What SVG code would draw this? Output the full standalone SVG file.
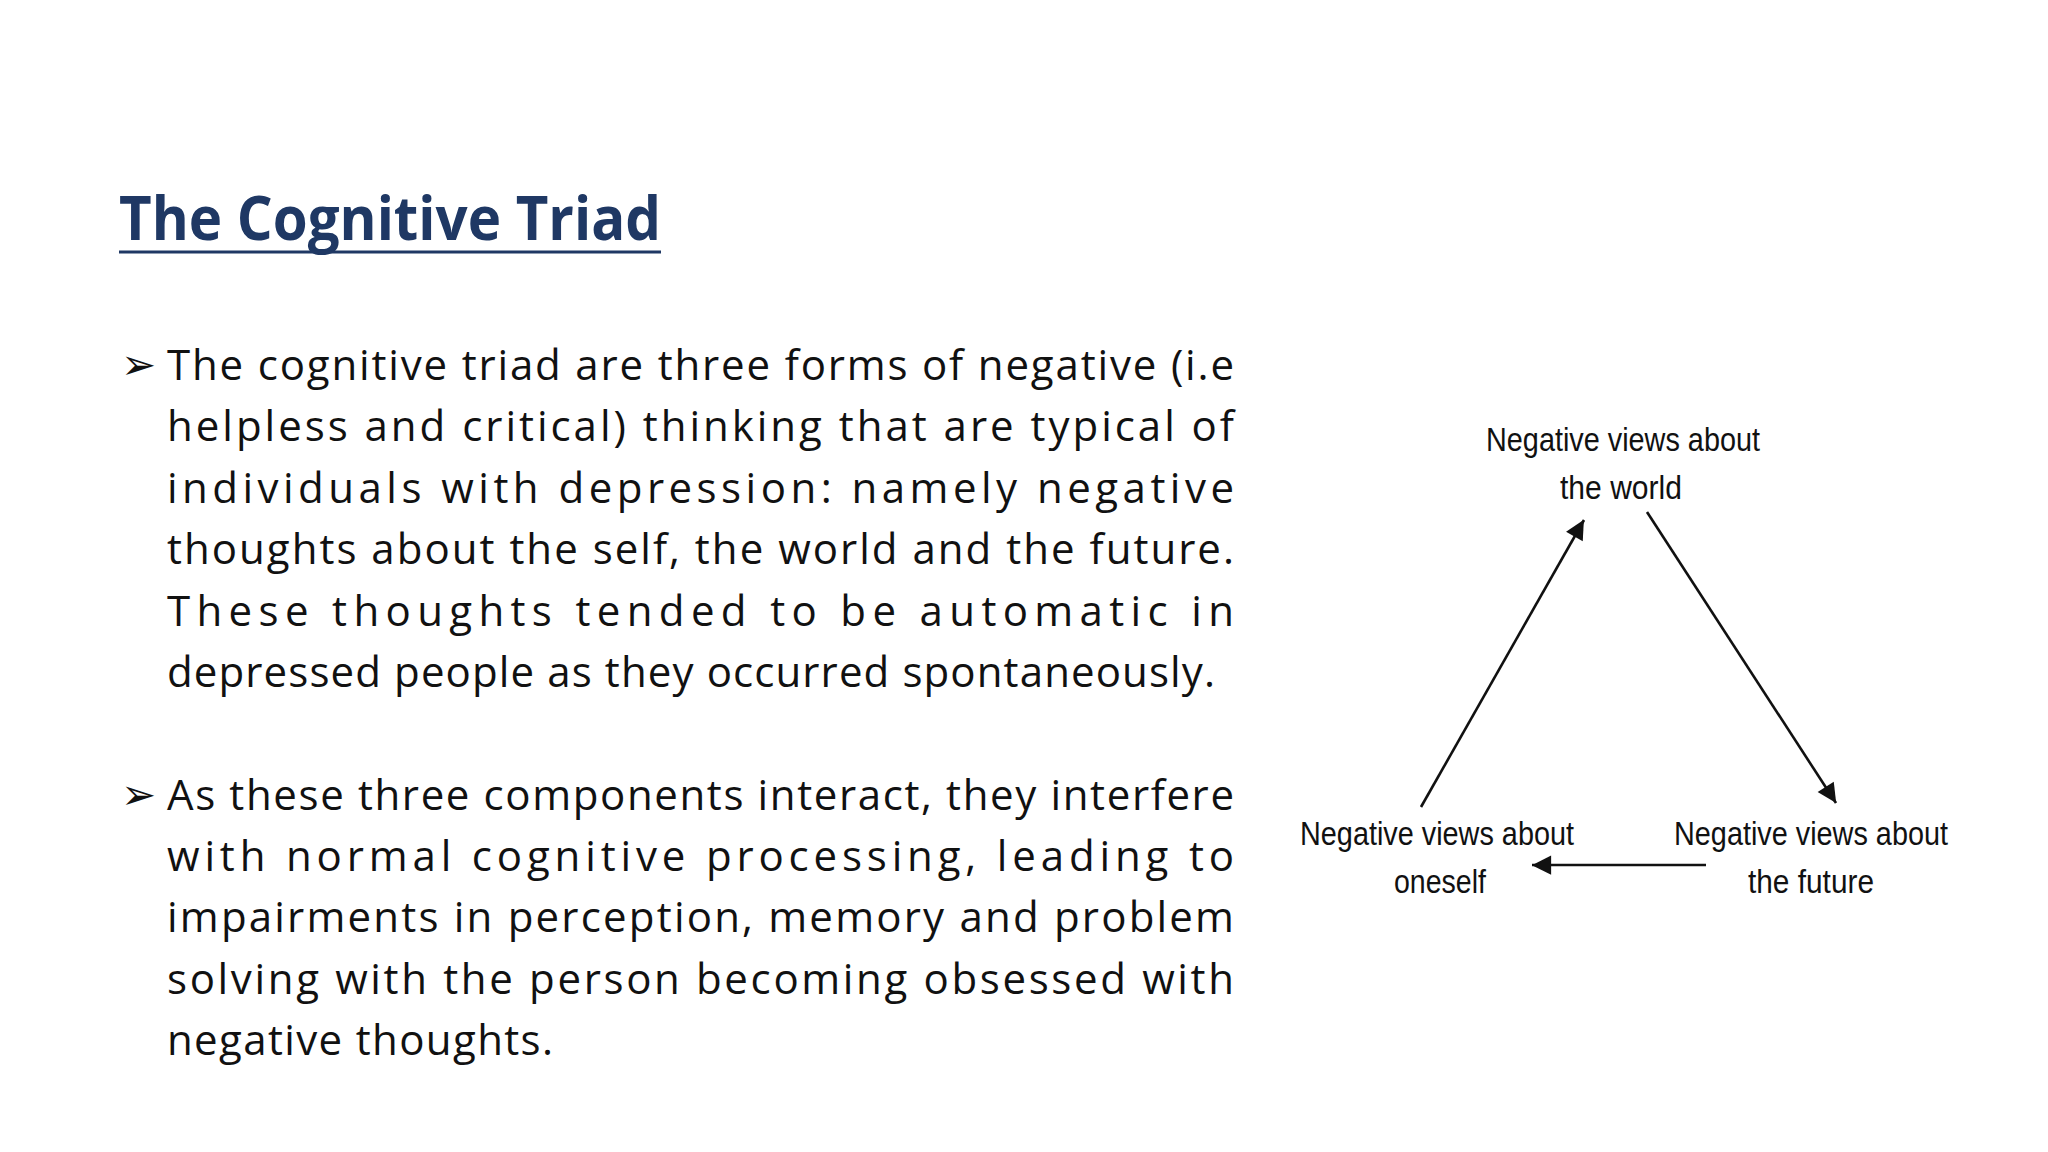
<svg xmlns="http://www.w3.org/2000/svg" width="2048" height="1152" viewBox="0 0 2048 1152">
<style>
.b{font-family:"Open Sans","Liberation Sans",sans-serif;font-size:42px;fill:#111}
.l{font-family:"Liberation Sans Narrow","Liberation Sans",sans-serif;font-size:34px;fill:#111;text-anchor:middle}
.c{stroke:#111;stroke-width:2.6;fill:none;marker-end:url(#ah)}
</style>
<defs><marker id="ah" viewBox="0 0 10 10" refX="10" refY="5" markerWidth="8" markerHeight="8" markerUnits="userSpaceOnUse" orient="auto" style="overflow:visible"><path d="M0,0 L10,5 L0,10 z" fill="#111" transform="scale(2.4) translate(-5.8,-3)"/></marker></defs>
<rect width="2048" height="1152" fill="#fff"/>
<g id="title"><text x="119" y="240" font-family="Open Sans, sans-serif" font-weight="bold" font-size="60" fill="#1F3864" textLength="542" lengthAdjust="spacingAndGlyphs">The Cognitive Triad</text><line x1="119" y1="252" x2="661" y2="252" stroke="#1F3864" stroke-width="3"/></g>
<g id="body">
<text x="121" y="379" class="b" font-family="DejaVu Sans, sans-serif">➢</text>
<text x="167" y="380" class="b" textLength="1067" lengthAdjust="spacing">The cognitive triad are three forms of negative (i.e</text>
<text x="167" y="441" class="b" textLength="1067" lengthAdjust="spacing">helpless and critical) thinking that are typical of</text>
<text x="167" y="503" class="b" textLength="1067" lengthAdjust="spacing">individuals with depression: namely negative</text>
<text x="167" y="564" class="b" textLength="1067" lengthAdjust="spacing">thoughts about the self, the world and the future.</text>
<text x="167" y="626" class="b" textLength="1067" lengthAdjust="spacing">These thoughts tended to be automatic in</text>
<text x="167" y="687" class="b" textLength="1048" lengthAdjust="spacing">depressed people as they occurred spontaneously.</text>
<text x="121" y="809" class="b" font-family="DejaVu Sans, sans-serif">➢</text>
<text x="167" y="810" class="b" textLength="1067" lengthAdjust="spacing">As these three components interact, they interfere</text>
<text x="167" y="871" class="b" textLength="1067" lengthAdjust="spacing">with normal cognitive processing, leading to</text>
<text x="167" y="932" class="b" textLength="1067" lengthAdjust="spacing">impairments in perception, memory and problem</text>
<text x="167" y="994" class="b" textLength="1067" lengthAdjust="spacing">solving with the person becoming obsessed with</text>
<text x="167" y="1055" class="b" textLength="386" lengthAdjust="spacing">negative thoughts.</text>
</g>
<g id="world"><text x="1623" y="451" class="l" textLength="274" lengthAdjust="spacingAndGlyphs">Negative views about</text><text x="1621" y="499" class="l" textLength="122" lengthAdjust="spacingAndGlyphs">the world</text></g>
<g id="oneself"><text x="1437" y="845" class="l" textLength="274" lengthAdjust="spacingAndGlyphs">Negative views about</text><text x="1440" y="893" class="l" textLength="92" lengthAdjust="spacingAndGlyphs">oneself</text></g>
<g id="future"><text x="1811" y="845" class="l" textLength="274" lengthAdjust="spacingAndGlyphs">Negative views about</text><text x="1811" y="893" class="l" textLength="126" lengthAdjust="spacingAndGlyphs">the future</text></g>
<g id="connectors">
<line class="c" x1="1421" y1="807" x2="1584" y2="520"/>
<line class="c" x1="1647" y1="512" x2="1836" y2="803"/>
<line class="c" x1="1706" y1="865" x2="1532" y2="865"/>
</g>
</svg>
